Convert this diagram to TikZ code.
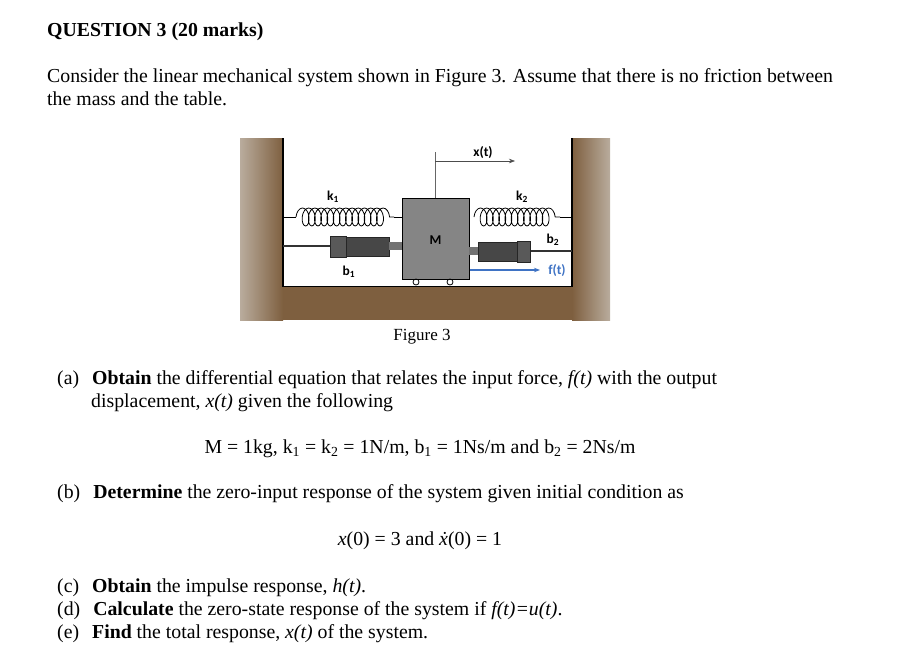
\documentclass[tikz,border=0pt]{standalone}
\usepackage{fontspec}
\setmainfont{Liberation Serif}
\newfontfamily\sans{Carlito}
\usetikzlibrary{decorations.pathmorphing,arrows.meta}
\definecolor{brn}{HTML}{7E5F3F}
\definecolor{brnl}{HTML}{B9AC9D}
\definecolor{blu}{HTML}{3F73C4}
\tikzset{
 txt/.style={anchor=base west,inner sep=0pt,font=\fontsize{19.8}{22}\selectfont},
 lbl/.style={inner sep=0pt,font=\sans\bfseries\fontsize{13.5}{15}\selectfont},
 coilsp/.style={decorate,decoration={coil,aspect=0.55,segment length=6.2pt,amplitude=9pt,pre length=0pt,post length=0pt},line width=0.8pt},
 cyl/.style={draw=black!85,fill=black!72,line width=0.5pt},
}
\begin{document}
\begin{tikzpicture}[x=1pt,y=-1pt]
\useasboundingbox (0,0) rectangle (916,672);
% text
\node[txt,font=\bfseries\fontsize{19.8}{22}\selectfont] (t0) at (47,36) {QUESTION 3 (20 marks)};
\node[txt] (t1) at (47,82) {Consider the linear mechanical system shown in Figure 3. Assume that there is no friction between};
\node[txt] (t2) at (47,105) {the mass and the table.};
% figure
\shade[left color=brnl,right color=brn] (240,138) rectangle (283,320);
\shade[left color=brn,right color=brnl] (572,138) rectangle (610,320);
\fill[brn] (283,287) rectangle (572,320);
\draw[line width=1.2pt] (283,138) -- (283,286.5) -- (572,286.5) -- (572,138);
% mass
\node[draw=black,line width=1pt,fill=black!48,minimum width=67pt,minimum height=81pt,inner sep=0pt] (M) at (435.5,238.5) {};
\node[lbl] (Ml) at (435.5,240) {M};
\draw[line width=0.8pt] (416,282) circle (3);
\draw[line width=0.8pt] (450,282) circle (3);
% x(t)
\coordinate (xt0) at (435,152);
\coordinate (xt1) at (435,161);
\coordinate (xt2) at (515,161);
\draw[black!60,line width=0.7pt] (M.north -| xt0) -- (xt0);
\draw[black!70,-{Stealth[length=6pt]},line width=0.6pt] (xt1) -- (xt2);
\node[lbl] (xl) at (483,153) {x(t)};
% springs
\coordinate (s1a) at (283,217);
\coordinate (s1b) at (296,217);
\coordinate (s1c) at (394,217);
\draw[line width=0.8pt] (s1a) -- (s1b);
\draw[coilsp] (s1b) -- (s1c);
\draw[line width=0.8pt] (s1c) -- (402,217);
\coordinate (s2a) at (469,217);
\coordinate (s2b) at (474,217);
\coordinate (s2c) at (560,217);
\draw[coilsp] (s2b) -- (s2c);
\draw[line width=0.8pt] (s2c) -- (572,217);
\node[lbl] (k1) at (333,197) {k\textsubscript{1}};
\node[lbl] (k2) at (522,197) {k\textsubscript{2}};
% dampers
\draw[line width=2.5pt,black!80] (283,246) -- (331,246);
\draw[cyl] (330,237) rectangle (389,256);
\draw[cyl,fill=black!65] (330,236) rectangle (346,257);
\fill[black!55] (389,242) rectangle (402,250);
\draw[line width=2.5pt,black!80] (530,251) -- (572,251);
\draw[cyl] (478,242) rectangle (530,261);
\draw[cyl,fill=black!65] (517,241) rectangle (530,262);
\fill[black!55] (469,247) rectangle (478,255);
\node[lbl] (b1) at (349,272) {b\textsubscript{1}};
\node[lbl] (b2) at (553,240) {b\textsubscript{2}};
% force
\coordinate (f1) at (540,270);
\draw[blu,line width=1.3pt,-{Stealth[length=6pt]}] (M.east |- f1) -- (f1);
\node[lbl,text=blu] (fl) at (557,271) {f(t)};
\node[txt,anchor=base,font=\fontsize{17}{20}\selectfont] (cap) at (422,340) {Figure 3};
% parts
\node[txt] (a1) at (57,384) {(a)\hspace{13pt}\textbf{Obtain} the differential equation that relates the input force, \textit{f(t)} with the output};
\node[txt] (a2) at (91,407) {displacement, \textit{x(t)} given the following};
\node[txt,anchor=base] (a3) at (420,453) {M = 1kg, k\textsubscript{1} = k\textsubscript{2} = 1N/m, b\textsubscript{1} = 1Ns/m and b\textsubscript{2} = 2Ns/m};
\node[txt] (b1t) at (57,498) {(b)\hspace{13pt}\textbf{Determine} the zero-input response of the system given initial condition as};
\node[txt,anchor=base] (b2t) at (420,545) {\textit{x}(0) = 3 and \textit{ẋ}(0) = 1};
\node[txt] (c1) at (57,592) {(c)\hspace{13pt}\textbf{Obtain} the impulse response, \textit{h(t)}.};
\node[txt] (d1) at (57,615) {(d)\hspace{13pt}\textbf{Calculate} the zero-state response of the system if \textit{f(t)=u(t)}.};
\node[txt] (e1) at (57,638) {(e)\hspace{13pt}\textbf{Find} the total response, \textit{x(t)} of the system.};
\end{tikzpicture}
\end{document}
